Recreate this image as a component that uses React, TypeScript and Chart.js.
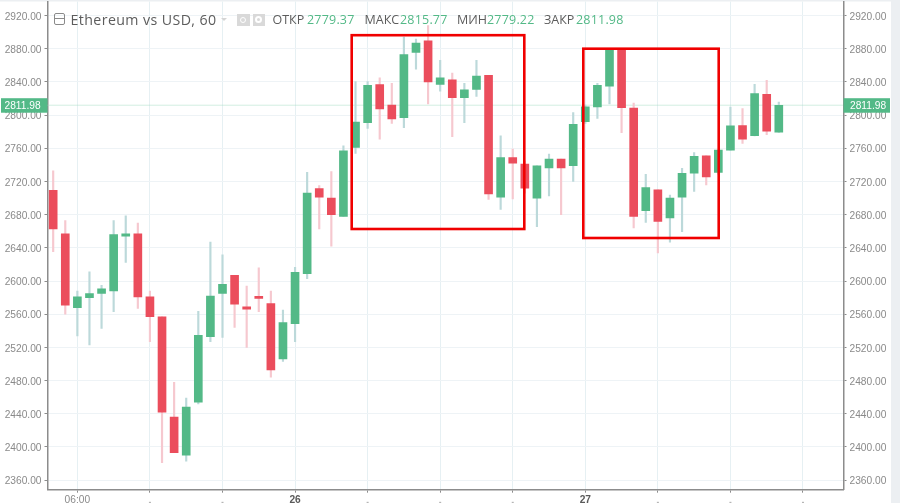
import React, { useEffect, useRef } from 'react';
import { Chart, registerables } from 'chart.js';

Chart.register(...registerables);

// Hourly candles
const opens = [
  2709.5, 2657, 2568, 2580, 2585, 2588, 2654, 2657, 2581, 2557, 2436, 2390, 2454, 2533, 2585, 2607,
  2569, 2581.5, 2573, 2506, 2548.5, 2609, 2711.5, 2700, 2678, 2761, 2791, 2837, 2812, 2797, 2875.5,
  2889.7, 2837, 2842.6, 2821, 2831, 2848, 2701, 2749, 2741, 2700, 2736.5, 2747, 2739, 2792, 2810,
  2835, 2880, 2808.5, 2685, 2710, 2676, 2701, 2730, 2751, 2731, 2757.7, 2787.5, 2775.4, 2825, 2779.37,
];
const closes = [
  2663, 2571, 2581, 2585, 2590.5, 2656, 2657, 2581, 2557, 2442, 2393, 2448, 2534.5, 2582, 2596, 2572,
  2566, 2579, 2493, 2550, 2610.5, 2706, 2701, 2680, 2757, 2791.5, 2836, 2807.5, 2795.5, 2873, 2887,
  2840, 2845, 2821, 2830.5, 2847, 2705, 2749, 2742, 2712, 2739, 2747, 2736.5, 2789, 2810, 2836,
  2880, 2809, 2678, 2712.6, 2672, 2700, 2730, 2750.4, 2725.5, 2758, 2787, 2771, 2826, 2780.6, 2811.98,
];
const highs = [
  2733, 2673, 2588, 2611, 2595, 2673, 2678.5, 2670, 2588, 2557, 2478, 2459, 2563.5, 2647, 2631.5, 2607,
  2594, 2616, 2588, 2565, 2616.5, 2731, 2715, 2732, 2763, 2840.5, 2840.5, 2845, 2838.5, 2894, 2891.7,
  2908, 2866, 2850.6, 2838.5, 2866, 2848, 2775, 2759, 2745, 2739, 2753, 2747, 2803, 2812, 2838.5,
  2880, 2880, 2814.5, 2728.7, 2710, 2703.7, 2736, 2755, 2751, 2758, 2809.6, 2808, 2837.3, 2842, 2815.77,
];
const lows = [
  2635.5, 2560, 2534, 2523, 2543, 2563, 2622.6, 2567, 2527, 2381, 2393, 2383, 2452, 2527, 2532, 2544,
  2520, 2563, 2484, 2503, 2527, 2603, 2663, 2642, 2678, 2754, 2784, 2771, 2790, 2785, 2855.5,
  2813.6, 2829, 2774, 2791, 2822.5, 2698.5, 2686.5, 2699, 2706, 2665.5, 2702.5, 2680, 2720, 2790, 2796,
  2813.6, 2779, 2664, 2670.8, 2634, 2647, 2659.5, 2708, 2716, 2729, 2757.7, 2766, 2775, 2776.6, 2779.22,
];

const priceTicks = [2920, 2880, 2840, 2800, 2760, 2720, 2680, 2640, 2600, 2560, 2520, 2480, 2440, 2400, 2360];
const timeTicks = [2, 8, 14, 20, 26, 32, 38, 44, 50, 56, 62];
const timeLabels = ['06:00', '', '', '26', '', '', '', '27', '', '', ''];
const boldTimeLabels = ['26', '27'];
const lastPrice = 2811.98;

const UP = '#53b987';
const DOWN = '#eb4d5c';
const UP_WICK = '#bcd9da';
const DOWN_WICK = '#f6c8cf';
const AXIS = '#8c8c8c';
const TICK_TEXT = '#8a8a8a';
const GRID_H = '#eef3f6';
const GRID_V = '#e6f0f3';

const PRICE_MIN = 2348.5;
const PRICE_MAX = 2937;
const INDEX_MIN = -0.47;
const INDEX_MAX = 65.35;

// highlight boxes, page pixels
const frames = [
  { left: 351.7, top: 35.2, right: 524.3, bottom: 229 },
  { left: 583.3, top: 48.7, right: 718.7, bottom: 238 },
];

const pageChrome = {
  id: 'pageChrome',
  afterLayout(chart: Chart) {
    // digits sit a bit high with a middle baseline, centre them on their ticks
    [chart.scales.y, chart.scales.y2].forEach((scale: any) => {
      scale.getLabelItems().forEach((item: any) => {
        item.textOffset += 1.3;
      });
    });
  },
  beforeDraw(chart: Chart) {
    const { ctx, width, height } = chart;
    ctx.save();
    ctx.fillStyle = '#eceff2';
    ctx.fillRect(0, 0, width, 1.5);
    ctx.fillRect(891, 0, 9, height);
    ctx.restore();
  },
  beforeDatasetsDraw(chart: Chart) {
    const { ctx, chartArea } = chart;
    const y = chart.scales.y.getPixelForValue(lastPrice);
    ctx.save();
    ctx.strokeStyle = '#a5dcc3';
    ctx.lineWidth = 1;
    ctx.setLineDash([1, 1]);
    ctx.beginPath();
    ctx.moveTo(chartArea.left, y);
    ctx.lineTo(chartArea.right, y);
    ctx.stroke();
    ctx.restore();
  },
  afterDraw(chart: Chart) {
    const { ctx } = chart;
    const y = chart.scales.y.getPixelForValue(lastPrice);
    ctx.save();
    // tops of the cut off time labels at the picture's lower edge
    ctx.fillStyle = '#b5b5b5';
    timeTicks.forEach((t, i) => {
      const px = chart.scales.x.getPixelForValue(t);
      if (!timeLabels[i] && px < chart.chartArea.right) ctx.fillRect(px - 1, 501.8, 2, 1.2);
    });
    // last price tags on both axes
    ctx.fillStyle = UP;
    ctx.fillRect(1, y - 7, 46.5, 14.5);
    ctx.fillRect(843.5, y - 7, 46.5, 14.5);
    ctx.fillStyle = '#ffffff';
    ctx.font = '10.2px "Liberation Sans"';
    ctx.textBaseline = 'middle';
    ctx.textAlign = 'left';
    ctx.fillText(lastPrice.toFixed(2), 4.5, y + 1.3);
    ctx.fillText(lastPrice.toFixed(2), 850, y + 1.3);
    // red boxes
    ctx.strokeStyle = '#f00000';
    ctx.lineWidth = 2.6;
    frames.forEach((f) => ctx.strokeRect(f.left, f.top, f.right - f.left, f.bottom - f.top));
    ctx.restore();
  },
};

const headerText: React.CSSProperties = {
  position: 'absolute',
  top: 9.5,
  fontFamily: '"Open Sans", sans-serif',
  whiteSpace: 'nowrap',
  lineHeight: '20px',
};

function Legend({ x, text, color, size = 12.5, spacing = 0.2 }: { x: number; text: string; color: string; size?: number; spacing?: number }) {
  return <span style={{ ...headerText, left: x, color, fontSize: size, letterSpacing: spacing }}>{text}</span>;
}

// Chart.js reserves room for half a label at the axis ends, the original chart does not
const noScalePadding = (scale: any) => {
  scale.paddingTop = 0;
  scale.paddingBottom = 0;
  scale.paddingLeft = 0;
  scale.paddingRight = 0;
};

const App: React.FC = () => {
  const chartRef = useRef<HTMLCanvasElement>(null);

  useEffect(() => {
    document.body.style.margin = '0';
    if (!chartRef.current) return;

    const isUp = closes.map((c, i) => c >= opens[i]);

    const chart = new Chart(chartRef.current, {
      type: 'bar',
      data: {
        datasets: [
          {
            label: 'Body',
            data: opens.map((o, i) => ({ x: i, y: [o, closes[i]] })) as any,
            backgroundColor: isUp.map((u) => (u ? UP : DOWN)),
            barThickness: 8,
            grouped: false,
            order: 1,
          },
          {
            label: 'Wick',
            data: lows.map((l, i) => ({ x: i, y: [l, highs[i]] })) as any,
            backgroundColor: isUp.map((u) => (u ? UP_WICK : DOWN_WICK)),
            barThickness: 1.5,
            grouped: false,
            order: 2,
          },
        ],
      },
      options: {
        responsive: false,
        animation: false,
        layout: { padding: { top: 1.5 } },
        plugins: {
          legend: { display: false },
          tooltip: { enabled: false },
        },
        scales: {
          x: {
            type: 'linear',
            offset: false,
            min: INDEX_MIN,
            max: INDEX_MAX,
            afterBuildTicks: (scale) => {
              scale.ticks = timeTicks.map((value) => ({ value }));
            },
            afterFit: (scale) => {
              scale.height = 13.3;
              noScalePadding(scale);
            },
            grid: { color: GRID_V, offset: false, tickColor: AXIS, tickLength: 3 },
            border: { color: AXIS, width: 1.5 },
            ticks: {
              autoSkip: false,
              maxRotation: 0,
              padding: 1,
              color: (ctx) => (boldTimeLabels.includes(timeLabels[ctx.index]) ? '#5a5a5a' : TICK_TEXT),
              font: (ctx) => ({
                family: '"Liberation Sans"',
                size: 10.2,
                weight: boldTimeLabels.includes(timeLabels[ctx.index]) ? 'bold' : 'normal',
              }),
              callback: (_value, index) => timeLabels[index],
            },
          },
          y: {
            position: 'left',
            min: PRICE_MIN,
            max: PRICE_MAX,
            afterBuildTicks: (scale) => {
              scale.ticks = priceTicks.map((value) => ({ value }));
            },
            afterFit: (scale) => {
              scale.width = 47.5;
              noScalePadding(scale);
            },
            grid: { color: GRID_H, tickColor: AXIS, tickLength: 3 },
            border: { color: AXIS, width: 1.5 },
            ticks: {
              padding: 3,
              color: TICK_TEXT,
              font: { family: '"Liberation Sans"', size: 10.2 },
              callback: (value) => Number(value).toFixed(2),
            },
          },
          y2: {
            position: 'right',
            min: PRICE_MIN,
            max: PRICE_MAX,
            afterBuildTicks: (scale) => {
              scale.ticks = priceTicks.map((value) => ({ value }));
            },
            afterFit: (scale) => {
              scale.width = 56.5;
              noScalePadding(scale);
            },
            grid: { drawOnChartArea: false, tickColor: AXIS, tickLength: 3 },
            border: { color: AXIS, width: 1.5 },
            ticks: {
              padding: 3,
              color: TICK_TEXT,
              font: { family: '"Liberation Sans"', size: 10.2 },
              callback: (value) => Number(value).toFixed(2),
            },
          },
        },
      },
      plugins: [pageChrome],
    });

    return () => {
      chart.destroy();
    };
  }, []);

  return (
    <div style={{ position: 'relative', width: 900, height: 503, overflow: 'hidden', background: '#fff', filter: 'blur(0.35px)' }}>
      <canvas ref={chartRef} width={900} height={503} style={{ position: 'absolute', left: 0, top: 0 }} />

      {/* Collapse button */}
      <div style={{ position: 'absolute', left: 53.5, top: 13, width: 9, height: 9.5, border: '1px solid #8a8a8a', borderRadius: 2 }}>
        <div style={{ position: 'absolute', left: 0, right: 0, top: 4, height: 1, background: '#8a8a8a' }} />
      </div>

      <Legend x={70.5} text="Ethereum vs USD, 60" color="#5c5c5c" size={14.2} spacing={0.4} />

      <div style={{ position: 'absolute', left: 221, top: 18, width: 0, height: 0, borderLeft: '3px solid transparent', borderRight: '3px solid transparent', borderTop: '3px solid #d5d5d5' }} />
      <div style={{ position: 'absolute', left: 237, top: 13.5, width: 12.5, height: 12, background: '#d9d9d9' }}>
        <div style={{ position: 'absolute', left: 3, top: 3, width: 6, height: 6, borderRadius: '50%', border: '1px solid #fff', boxSizing: 'border-box' }} />
      </div>
      <div style={{ position: 'absolute', left: 252.5, top: 13.5, width: 12.5, height: 12, background: '#d9d9d9' }}>
        <div style={{ position: 'absolute', left: 2.5, top: 2.5, width: 7, height: 7, borderRadius: '50%', border: '2px solid #fff', boxSizing: 'border-box' }} />
      </div>

      <Legend x={272.5} text="ОТКР" color="#5c5c5c" spacing={0} />
      <Legend x={307} text="2779.37" color={UP} />
      <Legend x={364.5} text="МАКС" color="#5c5c5c" spacing={0} />
      <Legend x={400} text="2815.77" color={UP} />
      <Legend x={457} text="МИН" color="#5c5c5c" spacing={0} />
      <Legend x={487} text="2779.22" color={UP} />
      <Legend x={544} text="ЗАКР" color="#5c5c5c" spacing={0} />
      <Legend x={576} text="2811.98" color={UP} />
    </div>
  );
};

export default App;
